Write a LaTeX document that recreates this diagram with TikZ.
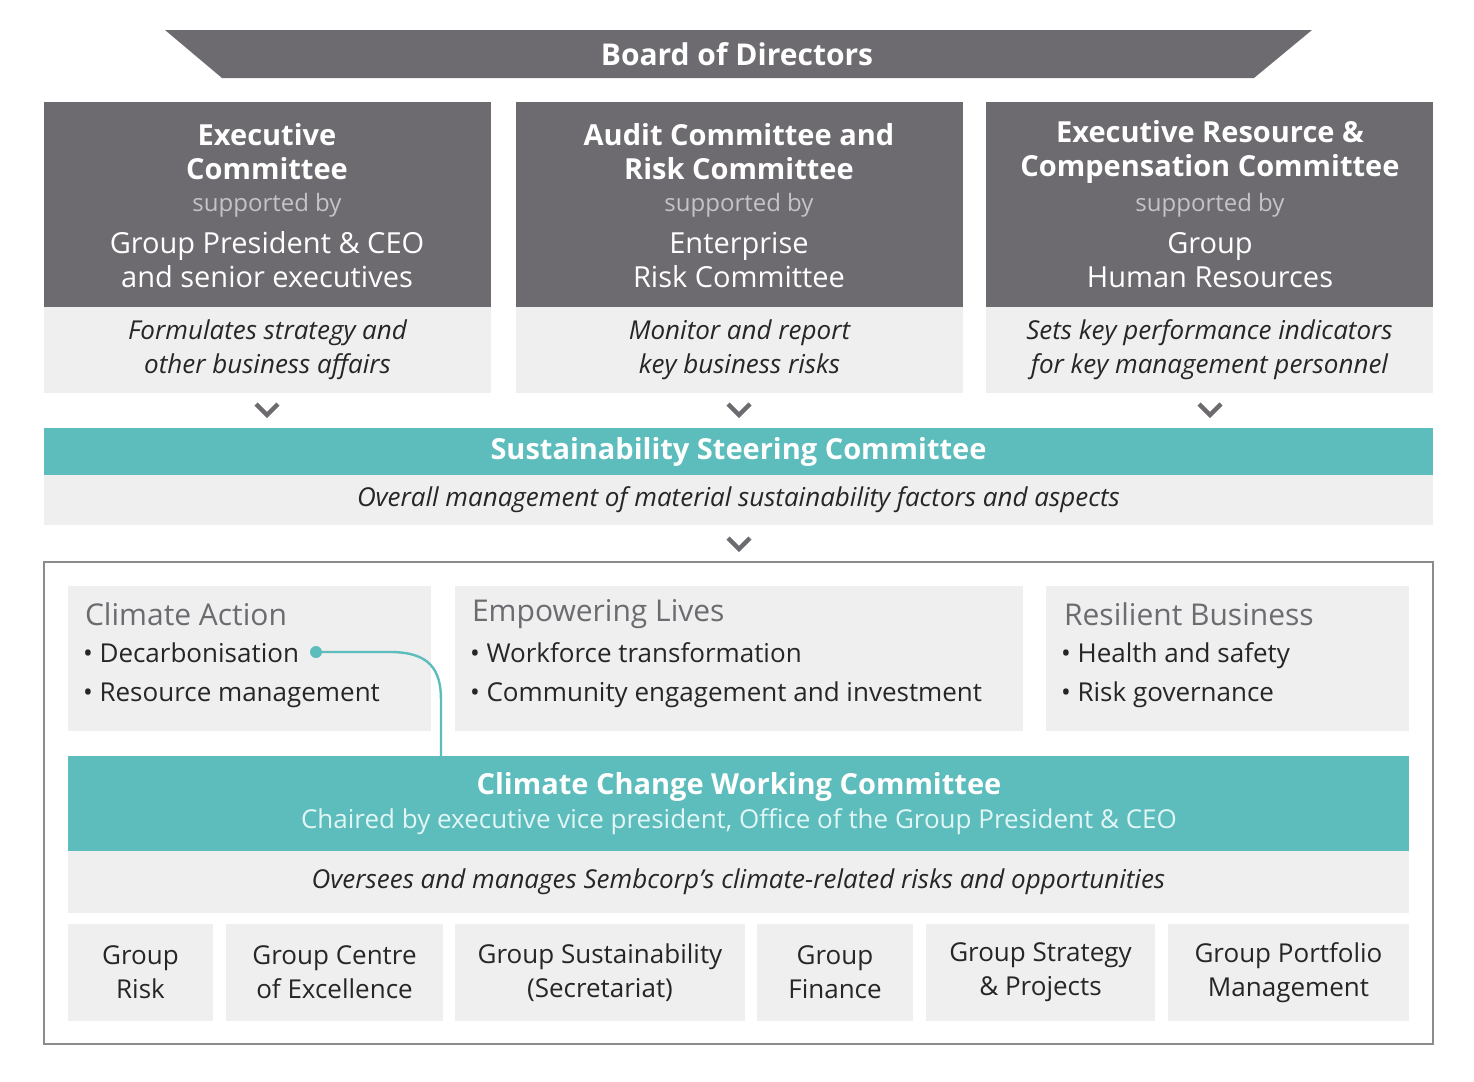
\documentclass[tikz,border=0pt]{standalone}
\usepackage{fontspec}
\setmainfont{Open Sans}
\usetikzlibrary{fit}
\definecolor{dk}{HTML}{6D6B70}
\definecolor{lt}{HTML}{EFEFEF}
\definecolor{tl}{HTML}{5DBCBC}
\definecolor{sup}{HTML}{C4C4C6}
\definecolor{tlt}{HTML}{E2F6F6}
\tikzset{
 dkbox/.style={fill=dk},
 ltbox/.style={fill=lt},
 tlbox/.style={fill=tl},
 hd/.style={text=white,font=\fontsize{14.5}{17}\selectfont\bfseries,align=center},
 desc/.style={font=\fontsize{13}{17}\selectfont\itshape,align=center,text=black!85},
 plain/.style={font=\fontsize{13}{17}\selectfont,align=center,text=black!85},
 chev/.style={draw=dk,line width=2.2pt},
 bul/.style={font=\fontsize{13}{19.5}\selectfont,align=left,anchor=north west,text=black!85},
 theme/.style={font=\fontsize{15}{18}\selectfont,text=dk,anchor=west},
}
\newcommand\bx[6]{\path (#2,#3) coordinate (#1-a) (#4,#5) coordinate (#1-b);
 \node[fit=(#1-a)(#1-b),inner sep=0pt,#6] (#1) {};}
\begin{document}
\begin{tikzpicture}[x=0.5pt,y=-0.5pt]
\useasboundingbox (0,0) rectangle (1474,1082);
% board
\path (165,30) coordinate (b1) (1312,30) coordinate (b2) (1254,78) coordinate (b3) (222,78) coordinate (b4);
\fill[dk] (b1)--(b2)--(b3)--(b4)--cycle;
\node[hd,font=\fontsize{15}{18}\selectfont\bfseries] (board) at (737,54) {Board of Directors};
% three committees
\foreach \n/\xa/\xb in {c1/44/491,c2/516/963,c3/986/1433}{
 \bx{\n t}{\xa}{102}{\xb}{307}{dkbox}
 \bx{\n d}{\xa}{307}{\xb}{393}{ltbox}
}
\node[hd] (c1h) at (267,152) {Executive\\Committee};
\node[hd] (c2h) at (739,152) {Audit Committee and\\Risk Committee};
\node[hd] (c3h) at (1210,152) {Executive Resource \&\\Compensation Committee};
\foreach \n/\x in {c1/267,c2/739,c3/1210}
 \node[text=sup,font=\fontsize{12}{14}\selectfont] (\n s) at (\x,205) {supported by};
\node[hd,font=\fontsize{14.5}{17}\selectfont] (c1g) at (267,260) {Group President \& CEO\\and senior executives};
\node[hd,font=\fontsize{14.5}{17}\selectfont] (c2g) at (739,260) {Enterprise\\Risk Committee};
\node[hd,font=\fontsize{14.5}{17}\selectfont] (c3g) at (1210,260) {Group\\Human Resources};
\node[desc] at (c1d) {Formulates strategy and\\other business affairs};
\node[desc] at (c2d) {Monitor and report\\key business risks};
\node[desc] at (c3d) {Sets key performance indicators\\for key management personnel};
\foreach \x in {267,739,1210}
 \draw[chev] (\x-11,404)--(\x,415)--(\x+11,404);
% steering
\bx{sst}{44}{428}{1433}{475}{tlbox}
\bx{ssd}{44}{475}{1433}{525}{ltbox}
\node[hd] at (sst) {Sustainability Steering Committee};
\node[desc] at (ssd) {Overall management of material sustainability factors and aspects};
\draw[chev] (728,538)--(739,549)--(750,538);
% frame
\bx{frame}{44}{562}{1433}{1044}{draw=black!45,line width=0.8pt}
% themes
\bx{t1}{68}{586}{431}{731}{ltbox}
\bx{t2}{455}{586}{1023}{731}{ltbox}
\bx{t3}{1046}{586}{1409}{731}{ltbox}
\node[theme] at (78,614) {Climate Action};
\node[theme] at (465,614) {Empowering Lives};
\node[theme] at (1057,614) {Resilient Business};
\node[bul] (b1l) at (76,636) {•\ Decarbonisation\\•\ Resource management};
\node[bul] at (463,636) {•\ Workforce transformation\\•\ Community engagement and investment};
\node[bul] at (1054,636) {•\ Health and safety\\•\ Risk governance};
% climate change committee
\bx{cct}{68}{756}{1409}{851}{tlbox}
\bx{ccd}{68}{851}{1409}{913}{ltbox}
\node[hd] at (739,787) {Climate Change Working Committee};
\node[text=tlt,font=\fontsize{13}{16}\selectfont] at (739,822) {Chaired by executive vice president, Office of the Group President \& CEO};
\node[desc] at (ccd) {Oversees and manages Sembcorp’s climate-related risks and opportunities};
% connector
\coordinate (dot) at (316,652);
\fill[tl] (dot) circle (6);
\draw[tl,line width=1.2pt] (dot) -- (390,652) .. controls (430,652) and (441,670) .. (441,700) -- (441,756);
% bottom units
\foreach \n/\xa/\xb/\t in {u1/68/213/{Group\\Risk},u2/226/443/{Group Centre\\of Excellence},u3/455/745/{Group Sustainability\\(Secretariat)},u4/757/913/{Group\\Finance},u5/926/1155/{Group Strategy\\\& Projects},u6/1168/1409/{Group Portfolio\\Management}}{
 \bx{\n}{\xa}{924}{\xb}{1021}{ltbox}
 \node[plain] at (\n) {\t};
}
\end{tikzpicture}
\end{document}
